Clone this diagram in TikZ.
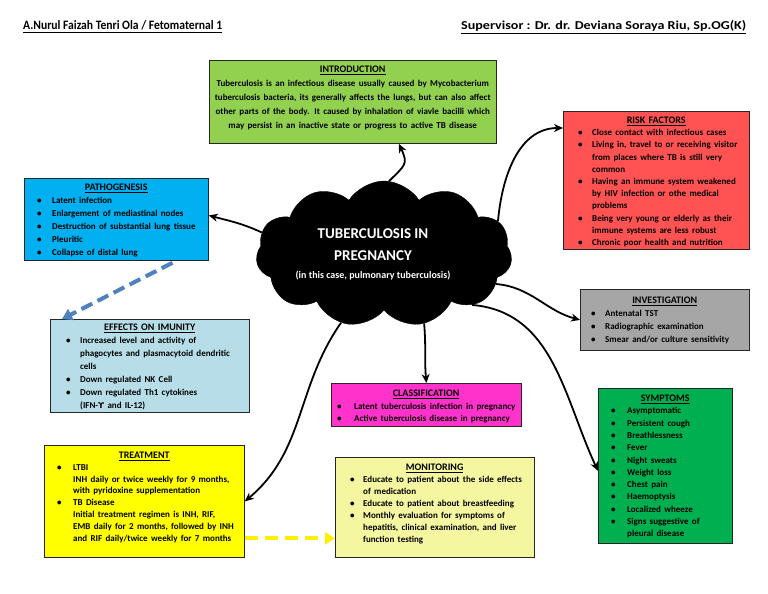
\documentclass[tikz,border=0pt]{standalone}
\usepackage{fontspec}
\setmainfont{Carlito}
\newfontfamily\dvs{DejaVu Sans}
\usetikzlibrary{shapes.symbols,arrows.meta,calc}
\definecolor{introc}{HTML}{92D050}
\definecolor{riskc}{HTML}{FF5353}
\definecolor{pathoc}{HTML}{00B0F0}
\definecolor{investc}{HTML}{A6A6A6}
\definecolor{effc}{HTML}{B7DEE8}
\definecolor{classc}{HTML}{FF33CC}
\definecolor{sympc}{HTML}{00B050}
\definecolor{treatc}{HTML}{FFFF00}
\definecolor{monitc}{HTML}{F4F7A0}
\definecolor{blueline}{HTML}{4F81BD}
\definecolor{yellowline}{HTML}{FFEF00}
\newlength\bul \newlength\ind
\newcommand\itm[1]{\par\noindent\hangindent=\ind\hangafter=1\makebox[\ind][l]{\hspace*{\bul}\textbullet}#1}
\newcommand\ttl[2]{\noindent\makebox[#1]{\fontsize{10}{12}\selectfont\underline{#2}}\par}
\tikzset{
  box/.style={draw=black!85, line width=0.8pt, anchor=north west, inner sep=0pt},
  txt/.style={anchor=base west, inner sep=0pt, align=left, font=\bfseries},
  conn/.style={line width=1.8pt, -{Stealth[length=9pt,width=8pt]}},
  blued/.style={line width=4pt, draw=blueline, dash pattern=on 12pt off 6pt, -{Triangle[length=10pt,width=12pt]}},
  yellowd/.style={line width=4pt, draw=yellowline, dash pattern=on 13pt off 7pt, -{Triangle[length=10pt,width=12pt]}},
  hdr/.style={anchor=base west, inner sep=0pt, font=\bfseries},
  ctxt/.style={anchor=base, inner sep=0pt, text=white, font=\bfseries},
}
\begin{document}
\begin{tikzpicture}[x=1pt,y=1pt]
\useasboundingbox (0,0) rectangle (768,-594);
\fill[white] (0,0) rectangle (768,-594);

% header
\node[hdr] (hdrL) at (23,-30) {\resizebox{199pt}{9pt}{\underline{A.Nurul Faizah Tenri Ola / Fetomaternal 1}}};
\node[hdr] (hdrR) at (461,-30) {\resizebox{285pt}{9pt}{\underline{Supervisor : Dr. dr. Deviana Soraya Riu, Sp.OG(K)}}};

% cloud
\node[cloud, cloud puffs=11, cloud puff arc=115, aspect=1.8, fill=black, draw=black, minimum width=256pt, minimum height=146pt] (cloud) at (384,-254) {};
\node[ctxt] (c1) at (373,-238) {\fontsize{15}{18}\selectfont TUBERCULOSIS IN};
\node[ctxt] (c2) at (373,-260) {\fontsize{15}{18}\selectfont PREGNANCY};
\node[ctxt] (c3) at (373,-278) {\fontsize{10}{12}\selectfont (in this case, pulmonary tuberculosis)};

% introduction
\node[box, fill=introc, minimum width=287pt, minimum height=83pt] (intro) at (209,-60) {};
\node[txt, text width=287pt] (introtxt) at (209,-72.5) {\fontsize{9}{14}\selectfont
\ttl{287pt}{INTRODUCTION}
\noindent\makebox[287pt]{Tuberculosis is an infectious disease usually caused by Mycobacterium}\par
\noindent\makebox[287pt]{tuberculosis bacteria, its generally affects the lungs, but can also affect}\par
\noindent\makebox[287pt]{other parts of the body. It caused by inhalation of viavle bacilli which}\par
\noindent\makebox[287pt]{may persist in an inactive state or progress to active TB disease}\par};

% risk factors
\node[box, fill=riskc, minimum width=186pt, minimum height=138pt] (risk) at (563,-111) {};
\node[txt, text width=246pt] (risktxt) at (563,-123.5) {\setlength\bul{15pt}\setlength\ind{29pt}\fontsize{9}{12.2}\selectfont
\ttl{186pt}{RISK FACTORS}
\itm{Close contact with infectious cases}
\itm{Living in, travel to or receiving visitor\newline from places where TB is still very\newline common}
\itm{Having an immune system weakened\newline by HIV infection or othe medical\newline problems}
\itm{Being very young or elderly as their\newline immune systems are less robust}
\itm{Chronic poor health and nutrition}\par};

% pathogenesis
\node[box, fill=pathoc, minimum width=184pt, minimum height=82pt] (patho) at (24,-178) {};
\node[txt, text width=244pt] (pathotxt) at (24,-190.5) {\setlength\bul{13pt}\setlength\ind{28pt}\fontsize{9}{13}\selectfont
\ttl{184pt}{PATHOGENESIS}
\itm{Latent infection}
\itm{Enlargement of mediastinal nodes}
\itm{Destruction of substantial lung tissue}
\itm{Pleuritic}
\itm{Collapse of distal lung}\par};

% investigation
\node[box, fill=investc, minimum width=169pt, minimum height=61pt] (invest) at (580,-289) {};
\node[txt, text width=229pt] (investtxt) at (580,-303.5) {\setlength\bul{11pt}\setlength\ind{25pt}\fontsize{9}{13}\selectfont
\ttl{169pt}{INVESTIGATION}
\itm{Antenatal TST}
\itm{Radiographic examination}
\itm{Smear and/or culture sensitivity}\par};

% effects on imunity
\node[box, fill=effc, minimum width=199pt, minimum height=93pt] (effects) at (50,-319) {};
\node[txt, text width=259pt] (effectstxt) at (50,-330.5) {\setlength\bul{16pt}\setlength\ind{30pt}\fontsize{9}{13}\selectfont
\ttl{199pt}{EFFECTS ON IMUNITY}
\itm{Increased level and activity of\newline phagocytes and plasmacytoid dendritic\newline cells}
\itm{Down regulated NK Cell}
\itm{Down regulated Th1 cytokines\newline (IFN-{\dvs\fontsize{8}{10}\selectfont ϒ} and IL-12)}\par};

% classification
\node[box, fill=classc, minimum width=190pt, minimum height=43pt] (class) at (331,-383) {};
\node[txt, text width=250pt] (classtxt) at (331,-396.5) {\setlength\bul{6pt}\setlength\ind{23pt}\fontsize{9}{12.5}\selectfont
\ttl{190pt}{CLASSIFICATION}
\itm{Latent tuberculosis infection in pregnancy}
\itm{Active tuberculosis disease in pregnancy}\par};

% symptoms
\node[box, fill=sympc, minimum width=134pt, minimum height=155pt] (symp) at (598,-388) {};
\node[txt, text width=194pt] (symptxt) at (598,-401.5) {\setlength\bul{13pt}\setlength\ind{29pt}\fontsize{9}{12.3}\selectfont
\ttl{134pt}{SYMPTOMS}
\itm{Asymptomatic}
\itm{Persistent cough}
\itm{Breathlessness}
\itm{Fever}
\itm{Night sweats}
\itm{Weight loss}
\itm{Chest pain}
\itm{Haemoptysis}
\itm{Localized wheeze}
\itm{Signs suggestive of\newline pleural disease}\par};

% treatment
\node[box, fill=treatc, minimum width=200pt, minimum height=112pt] (treat) at (44,-445) {};
\node[txt, text width=260pt] (treattxt) at (44,-458.5) {\setlength\bul{13pt}\setlength\ind{29pt}\fontsize{9}{11.8}\selectfont
\ttl{200pt}{TREATMENT}
\itm{LTBI\newline INH daily or twice weekly for 9 months,\newline with pyridoxine supplementation}
\itm{TB Disease\newline Initial treatment regimen is INH, RIF,\newline EMB daily for 2 months, followed by INH\newline and RIF daily/twice weekly for 7 months}\par};

% monitoring
\node[box, fill=monitc, minimum width=199pt, minimum height=100pt] (monit) at (335,-457) {};
\node[txt, text width=259pt] (monittxt) at (335,-470.5) {\setlength\bul{15pt}\setlength\ind{28pt}\fontsize{9}{12}\selectfont
\ttl{199pt}{MONITORING}
\itm{Educate to patient about the side effects\newline of medication}
\itm{Educate to patient about breastfeeding}
\itm{Monthly evaluation for symptoms of\newline hepatitis, clinical examination, and liver\newline function testing}\par};

% connectors
\draw[conn] (cloud.86) to[out=45,in=-65,looseness=1.5] ($(intro.south)+(46,0)$);
\draw[conn] (cloud.16) to[out=85,in=180] ($(risk.north west)+(0,-17)$);
\draw[conn] (cloud.170) to[out=155,in=-15] ($(patho.east)+(0,4)$);
\draw[conn] (cloud.345) to[out=-5,in=165] (invest.west);
\draw[conn] (cloud.300) to[out=-85,in=95] (class.north);
\draw[conn] (cloud.238) to[out=235,in=40] (treat.east);
\draw[conn] (cloud.330) to[out=-5,in=115] ($(symp.west)+(0,-5)$);
\draw[blued] ($(patho.south)+(56,-2)$) -- ($(effects.north west)+(12,0)$);
\coordinate (ys) at ($(treat.east)+(0,-37)$);
\draw[yellowd] (ys) -- (ys -| monit.west);
\end{tikzpicture}
\end{document}
